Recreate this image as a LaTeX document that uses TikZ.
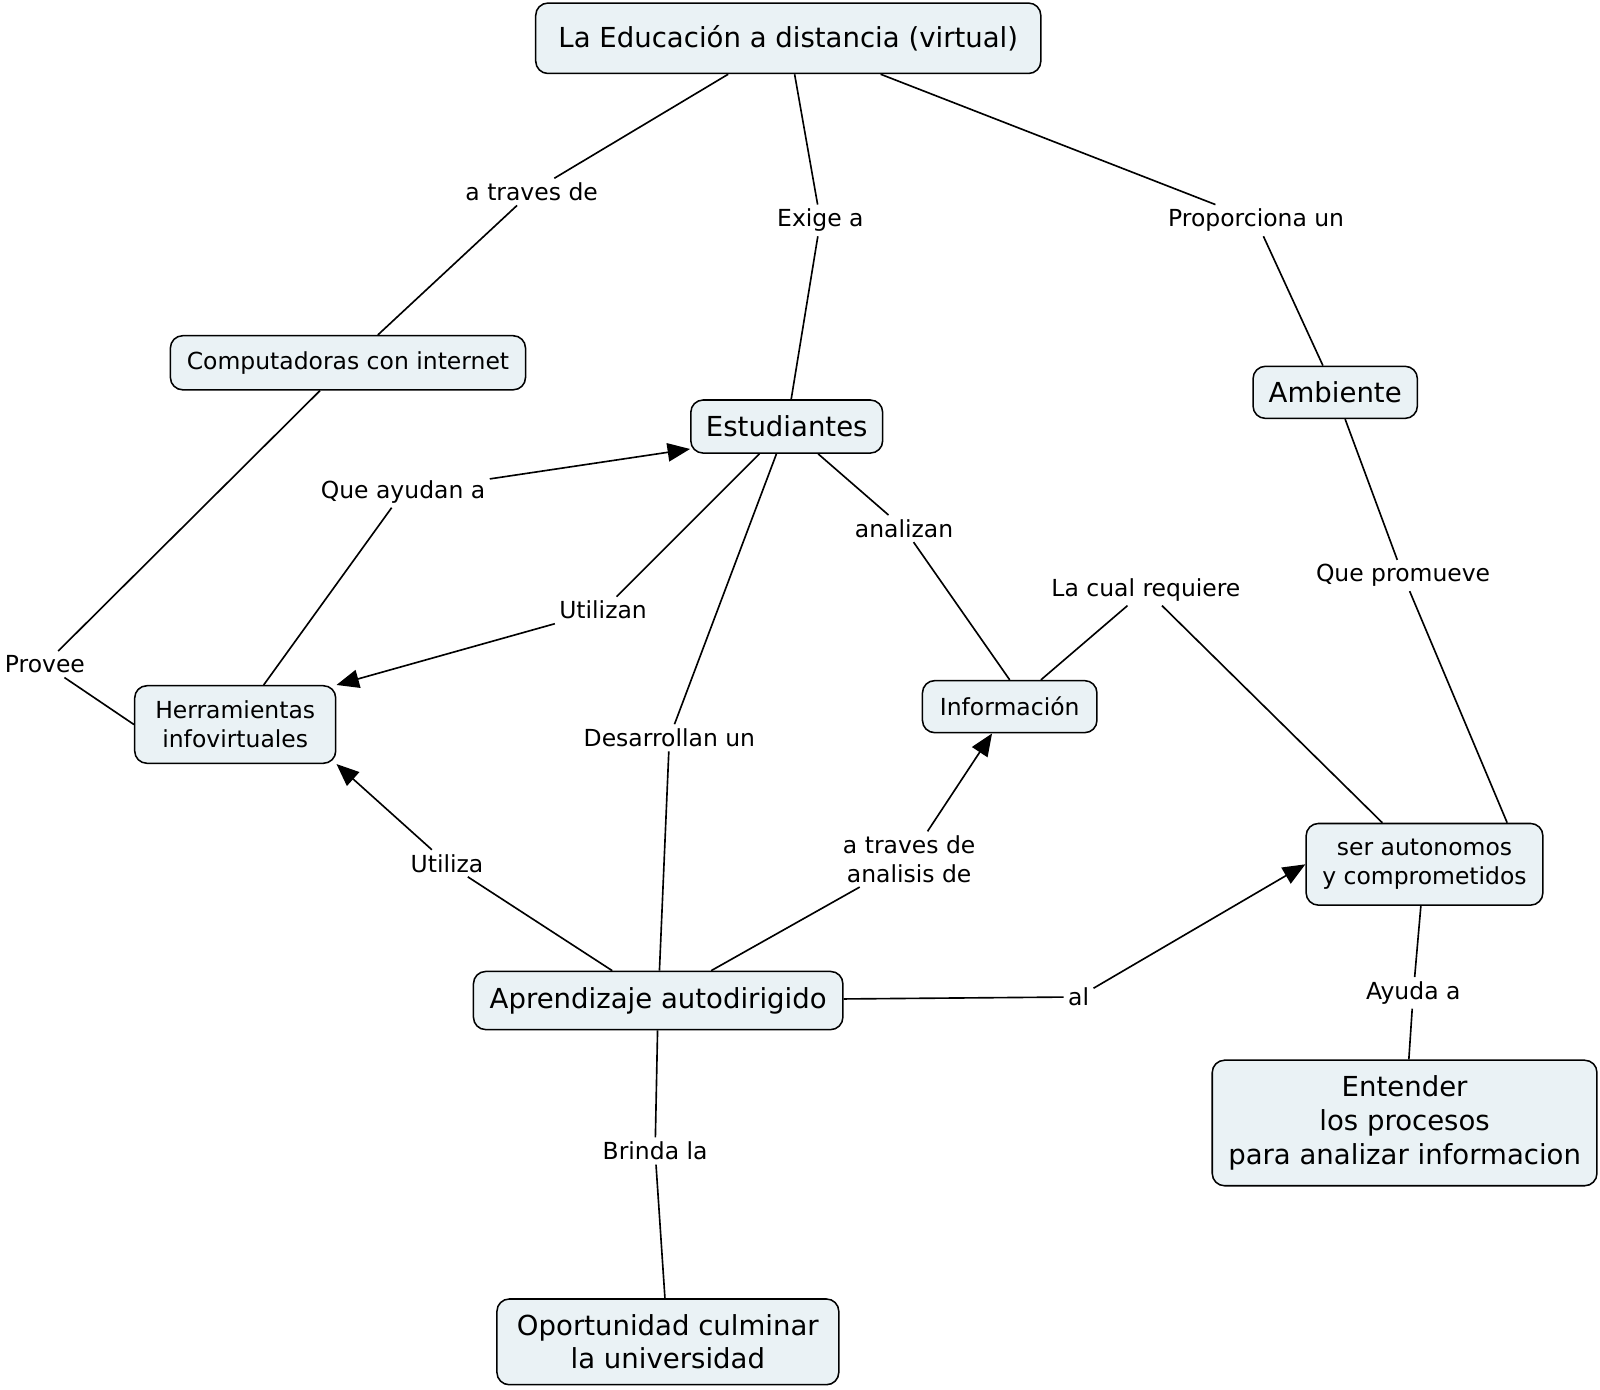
\documentclass[tikz,border=0pt]{standalone}
\usepackage{fontspec}
\setmainfont{DejaVu Sans}
\usetikzlibrary{arrows.meta,calc}
\definecolor{cfill}{RGB}{234,242,245}
\begin{document}
\begin{tikzpicture}[x=0.5pt,y=-0.5pt,
  concept/.style={draw=black,line width=0.75pt,fill=cfill,rounded corners=6pt,align=center,inner sep=0pt},
  big/.style={font=\fontsize{13.5}{16.5}\selectfont},
  small/.style={font=\fontsize{11.5}{14}\selectfont},
  lbl/.style={font=\fontsize{11.5}{14}\selectfont,align=center,inner sep=2pt},
  link/.style={line width=0.8pt},
  arr/.style={line width=0.8pt,-{Triangle[length=11pt,width=9pt]}}]
\useasboundingbox (0,0) rectangle (1568,1362);
% concepts
\node[concept,big,minimum width=247.5pt,minimum height=34.5pt] (top) at (772.5,37.5) {La Educación a distancia (virtual)};
\node[concept,small,minimum width=174pt,minimum height=26.5pt] (comp) at (341,355.5) {Computadoras con internet};
\node[concept,big,minimum width=94pt,minimum height=26pt] (est) at (771,418) {Estudiantes};
\node[concept,big,minimum width=80.5pt,minimum height=25.5pt] (amb) at (1308.5,384.5) {Ambiente};
\node[concept,small,minimum width=98.5pt,minimum height=38pt] (herr) at (230.5,710) {Herramientas\\infovirtuales};
\node[concept,small,minimum width=85.5pt,minimum height=25.5pt] (info) at (989.5,692.5) {Información};
\node[concept,small,minimum width=116pt,minimum height=40pt] (ser) at (1396,847) {ser autonomos\\y comprometidos};
\node[concept,big,minimum width=181pt,minimum height=28.5pt] (apr) at (645,980.5) {Aprendizaje autodirigido};
\node[concept,big,minimum width=188.5pt,minimum height=61.5pt] (ent) at (1376.5,1100.5) {Entender\\los procesos\\para analizar informacion};
\node[concept,big,minimum width=167.5pt,minimum height=42pt] (opo) at (654.5,1315) {Oportunidad culminar\\la universidad};
% linking phrases
\node[lbl] (l1) at (521,188) {a traves de};
\node[lbl] (l2) at (804,216) {Exige a};
\node[lbl] (l3) at (1231,216) {Proporciona un};
\node[lbl] (l4) at (395,482) {Que ayudan a};
\node[lbl] (l5) at (591,598) {Utilizan};
\node[lbl] (l6) at (886,518) {analizan};
\node[lbl] (l7) at (1123,578) {La cual requiere};
\node[lbl] (l8) at (1375,564) {Que promueve};
\node[lbl] (l9) at (44,651) {Provee};
\node[lbl] (l10) at (656,723) {Desarrollan un};
\node[lbl] (l11) at (438,846) {Utiliza};
\node[lbl] (l12) at (891,842) {a traves de\\analisis de};
\node[lbl] (l13) at (1057,977) {al};
\node[lbl] (l14) at (1385,973) {Ayuda a};
\node[lbl] (l15) at (642,1128) {Brinda la};
% anchor points used by the map
\coordinate (estin) at ($(est.west)+(0,22)$);
\coordinate (serr) at ($(ser.north)+(81,0)$);
% connectors
\draw[link] (top) -- (l1); \draw[link] (l1) -- (comp);
\draw[link] (top) -- (l2); \draw[link] (l2) -- (est);
\draw[link] (top) -- (l3); \draw[link] (l3) -- (amb);
\draw[link] (comp) -- (l9); \draw[link] (l9) -- (herr.west);
\draw[link] (herr) -- (l4); \draw[arr] (l4) -- (estin);
\draw[link] (est) -- (l5); \draw[arr] (l5) -- (herr.north east);
\draw[link] (est) -- (l10); \draw[link] (l10) -- (apr);
\draw[link] (est) -- (l6); \draw[link] (l6) -- (info.north);
\draw[link] (info) -- (l7); \draw[link] (l7) -- (ser);
\draw[link] (amb) -- (l8); \draw[link] (l8) -- (serr);
\draw[link] (apr) -- (l11); \draw[arr] (l11) -- (herr.south east);
\draw[link] (apr) -- (l12); \draw[arr] (l12) -- (info);
\draw[link] (apr) -- (l13); \draw[arr] (l13) -- (ser.west);
\draw[link] (ser) -- (l14); \draw[link] (l14) -- (ent);
\draw[link] (apr) -- (l15); \draw[link] (l15) -- (opo);
\end{tikzpicture}
\end{document}
